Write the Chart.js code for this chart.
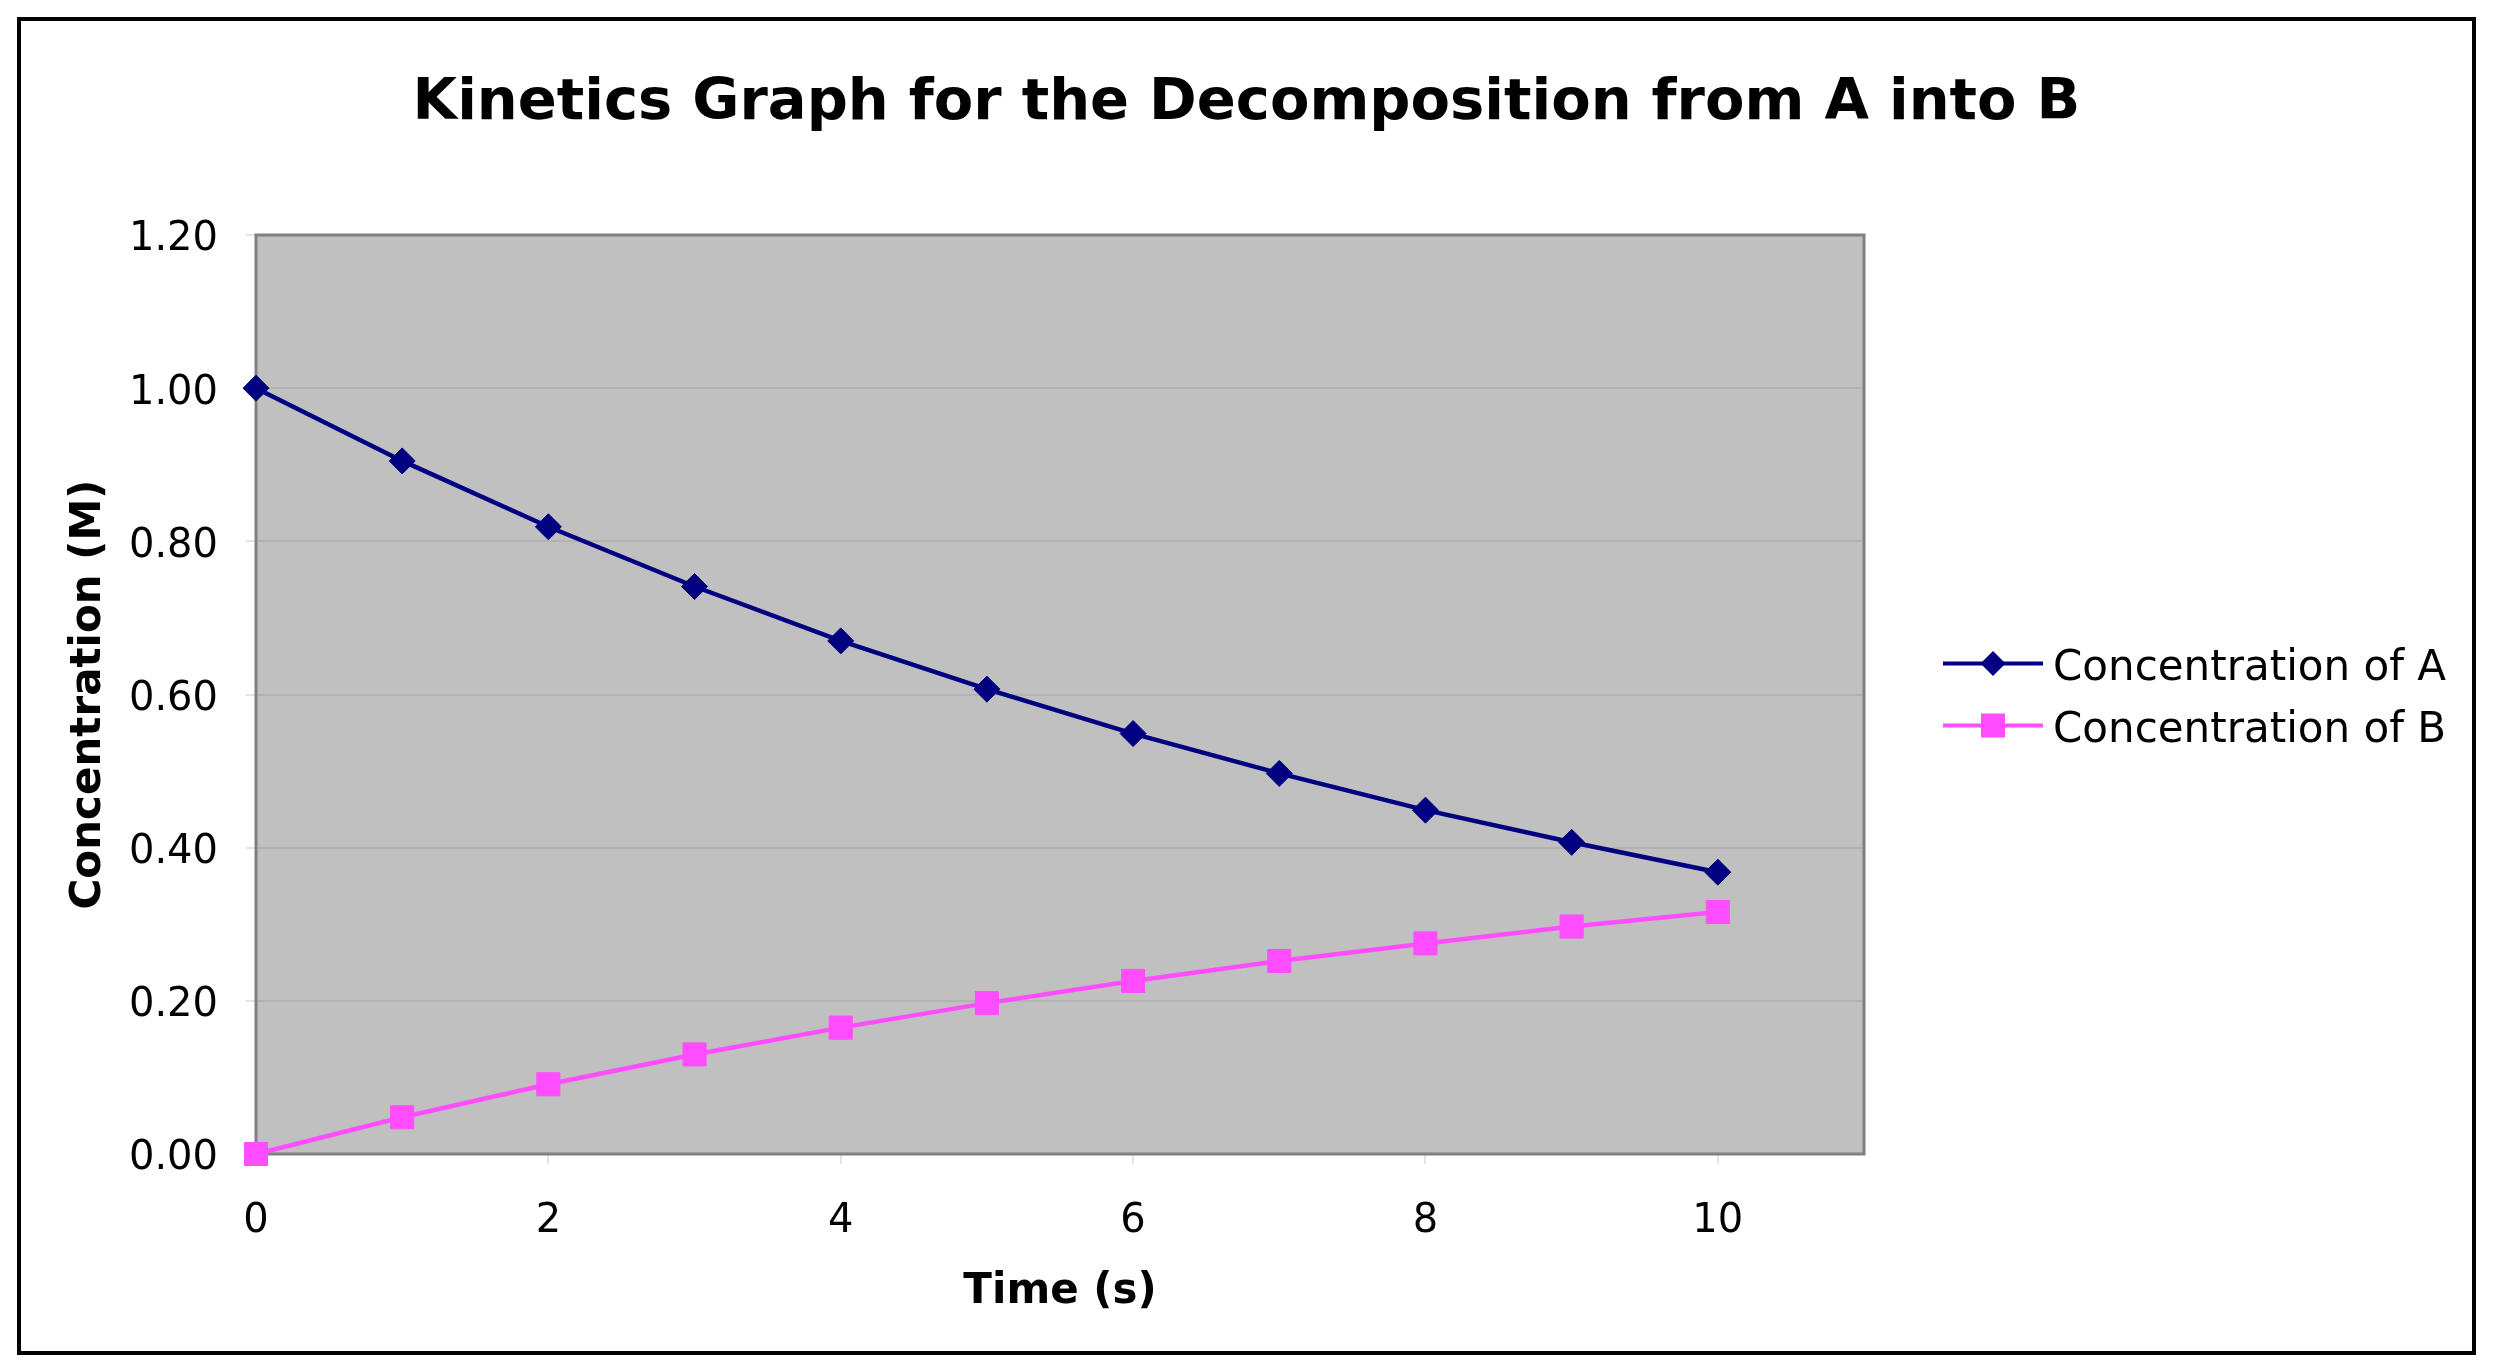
<!DOCTYPE html>
<html>
<head>
<meta charset="utf-8">
<script src="https://cdn.jsdelivr.net/npm/chart.js@4/dist/chart.umd.min.js"></script>
<style>
  html, body { margin: 0; padding: 0; background: #fff; }
  #wrap { width: 2493px; height: 1372px; position: relative; }
</style>
</head>
<body>
<div id="wrap"><canvas id="chart"></canvas></div>
<script>
// data
const times = [0, 1, 2, 3, 4, 5, 6, 7, 8, 9, 10];
const concA = [1.00, 0.905, 0.819, 0.741, 0.670, 0.607, 0.549, 0.497, 0.449, 0.407, 0.368];
const concB = [0.00, 0.048, 0.091, 0.130, 0.165, 0.197, 0.226, 0.252, 0.275, 0.297, 0.316];
const seriesNames = ['Concentration of A', 'Concentration of B'];
const titleText = 'Kinetics Graph for the Decomposition from A into B';
const xTitle = 'Time (s)';
const yTitle = 'Concentration (M)';

const FONT = '"DejaVu Sans", Verdana, sans-serif';
const NAVY = '#000080';
const PINK = '#ff4dff';

// white page, black frame, silver plot area
const framePlugin = {
  id: 'frame',
  beforeDraw(chart) {
    const {ctx, chartArea: a} = chart;
    ctx.save();
    ctx.fillStyle = '#fff';
    ctx.fillRect(0, 0, chart.width, chart.height);
    ctx.strokeStyle = '#000';
    ctx.lineWidth = 4;
    ctx.strokeRect(19, 19, chart.width - 38, chart.height - 38);
    ctx.fillStyle = '#c0c0c0';
    ctx.fillRect(a.left, a.top, a.right - a.left, a.bottom - a.top);
    ctx.restore();
  },
  beforeDatasetsDraw(chart) {
    const {ctx, chartArea: a} = chart;
    ctx.save();
    ctx.strokeStyle = '#808080';
    ctx.lineWidth = 3;
    ctx.strokeRect(a.left, a.top, a.right - a.left, a.bottom - a.top);
    ctx.restore();
  }
};

// Excel style legend: line with marker through it
const legendPlugin = {
  id: 'xlLegend',
  afterDraw(chart) {
    const {ctx, chartArea: a} = chart;
    const midY = (a.top + a.bottom) / 2;
    const n = chart.data.datasets.length;
    ctx.save();
    chart.data.datasets.forEach((ds, i) => {
      const y = midY + (i - (n - 1) / 2) * 62;
      const x0 = a.right + 79, x1 = a.right + 179, cx = (x0 + x1) / 2;
      ctx.strokeStyle = ds.borderColor;
      ctx.lineWidth = 4;
      ctx.beginPath(); ctx.moveTo(x0, y); ctx.lineTo(x1, y); ctx.stroke();
      ctx.fillStyle = ds.backgroundColor;
      ctx.beginPath();
      if (ds.pointStyle === 'rectRot') {
        const r = 12.5;
        ctx.moveTo(cx, y - r); ctx.lineTo(cx + r, y); ctx.lineTo(cx, y + r); ctx.lineTo(cx - r, y);
        ctx.closePath();
      } else {
        ctx.rect(cx - 12, y - 12, 24, 24);
      }
      ctx.fill();
      ctx.fillStyle = '#000';
      ctx.font = '42px ' + FONT;
      ctx.textBaseline = 'middle';
      ctx.textAlign = 'left';
      ctx.fillText(ds.label, a.right + 189, y + 6);
    });
    ctx.restore();
  }
};

new Chart(document.getElementById('chart'), {
  type: 'line',
  data: {
    datasets: [
      {
        label: seriesNames[0],
        data: times.map((t, i) => ({x: t, y: concA[i]})),
        borderColor: NAVY, backgroundColor: NAVY, borderWidth: 4.5,
        pointStyle: 'rectRot', pointRadius: 13, pointBorderWidth: 1,
        tension: 0, clip: false
      },
      {
        label: seriesNames[1],
        data: times.map((t, i) => ({x: t, y: concB[i]})),
        borderColor: PINK, backgroundColor: PINK, borderWidth: 4.5,
        pointStyle: 'rect', pointRadius: 16.3, pointBorderWidth: 1,
        tension: 0, clip: false
      }
    ]
  },
  options: {
    responsive: true,
    maintainAspectRatio: false,
    animation: false,
    events: [],
    layout: { padding: 0 },
    plugins: {
      legend: { display: false },
      tooltip: { enabled: false },
      title: {
        display: true,
        text: titleText,
        color: '#000',
        font: { family: FONT, size: 57.5, weight: 'bold', lineHeight: 1.2 },
        padding: { top: 70, bottom: 96 }
      }
    },
    scales: {
      x: {
        type: 'linear',
        min: 0, max: 11,
        afterFit: s => { s.height = 218; },
        ticks: {
          stepSize: 2, includeBounds: false, padding: 34,
          color: '#000', font: { family: FONT, size: 40 },
          maxRotation: 0
        },
        grid: { drawOnChartArea: false, drawTicks: true, tickLength: 10, tickColor: '#e4e4e4', lineWidth: 2 },
        border: { display: false },
        title: {
          display: true, text: xTitle, color: '#000',
          font: { family: FONT, size: 42, weight: 'bold', lineHeight: 1.2 },
          padding: { top: 0, bottom: 55 }
        }
      },
      y: {
        type: 'linear',
        min: 0, max: 1.2,
        afterFit: s => { s.width = 256; },
        ticks: {
          stepSize: 0.2, padding: 28, labelOffset: 5,
          color: '#000', font: { family: FONT, size: 40 },
          callback: v => v.toFixed(2)
        },
        grid: { color: '#b2b2b2', lineWidth: 2, tickLength: 10, tickColor: '#e4e4e4' },
        border: { display: false },
        title: {
          display: true, text: yTitle, color: '#000',
          font: { family: FONT, size: 42, weight: 'bold', lineHeight: 1.2 },
          padding: { top: 64, bottom: 0 }
        }
      },
      // empty right-hand axis that only reserves the space where the legend sits
      yRight: {
        type: 'linear', position: 'right', axis: 'y',
        afterFit: s => { s.width = 2493 - 1864; },
        ticks: { display: false },
        grid: { display: false },
        border: { display: false }
      }
    }
  },
  plugins: [framePlugin, legendPlugin]
});
</script>
</body>
</html>
